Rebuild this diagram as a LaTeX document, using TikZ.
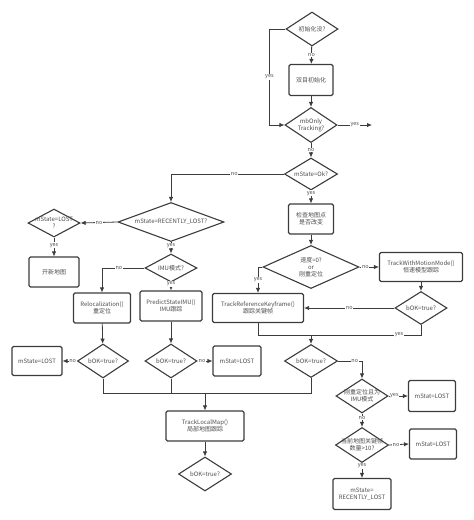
\documentclass[tikz,border=0pt]{standalone}
\usepackage{fontspec}
\newfontfamily\cjk{Noto Sans CJK SC}
\usetikzlibrary{shapes.geometric,arrows.meta,positioning}
\definecolor{edgegray}{HTML}{3C3C3C}
\definecolor{textgray}{HTML}{4D4D4D}

\begin{document}
\begin{tikzpicture}[x=1pt,y=-1pt,
  font=\cjk\fontsize{6}{7}\selectfont, text=textgray,
  proc/.style 2 args={draw=edgegray, line width=1.1pt, rounded corners=1.5pt, minimum width=#1, minimum height=#2, inner sep=1pt, align=center},
  dec/.code 2 args={\pgfmathsetmacro\decaspect{#1/#2}%
    \tikzset{diamond, draw=edgegray, line width=1.1pt, minimum width=#1, minimum height=#2, aspect=\decaspect, inner xsep=-4pt, inner ysep=-1pt, align=center}},
  arr/.style={draw=edgegray, line width=0.8pt, -{Latex[length=5pt,width=4.5pt]}},
  ln/.style={draw=edgegray, line width=0.8pt},
  lab/.style={fill=white, inner sep=0.6pt, font=\cjk\fontsize{5.5}{6}\selectfont}]
\useasboundingbox (0,0) rectangle (474,520);

% initialisation
\node[dec={52}{34}] (init) at (312,29) {初始化没?};
\node[proc={44}{31}] (stereo) at (311,80) {双目初始化};
\node[dec={52}{35}] (only) at (311,125) {mbOnly\\Tracking?};
\coordinate (exit) at (372,125);
\node[dec={53}{32}] (ok) at (311,174) {mState=Ok?};

% lost branch
\node[dec={106}{39}] (recent) at (171,222) {mState=RECENTLY\_LOST?};
\node[dec={52}{28}] (lostq) at (54,223) {mState=LOST\\?};
\node[proc={50}{30}] (newmap) at (54,272) {开新地图};
\node[dec={52}{28}] (imu) at (171,268) {IMU模式?};
\node[proc={57}{30}] (reloc) at (102,308) {Relocalization()\\重定位};
\node[proc={62}{30}] (predict) at (171,306) {PredictStateIMU()\\IMU跟踪};
\node[dec={51}{34}] (bokA) at (103,361) {bOK=true?};
\node[proc={50}{29}] (lostA) at (37,361) {mState=LOST};
\node[dec={52}{34}] (bokB) at (171,361) {bOK=true?};
\node[proc={48}{30}] (lostB) at (237,361) {mStat=LOST};

% ok branch
\node[proc={45}{30}] (check) at (311,219) {检查地图点\\是否改变};
\node[dec={96}{43}] (speed) at (311,267) {速度=0?\\or\\刚重定位};
\node[proc={83}{29}] (motion) at (421,267) {TrackWithMotionMode()\\恒速模型跟踪};
\node[proc={91}{29}] (refkf) at (258,308) {TrackReferenceKeyframe()\\跟踪关键帧};
\node[dec={52}{33}] (bokM) at (421,308) {bOK=true?};
\coordinate (jC) at (311,335);
\node[dec={53}{33}] (bokC) at (311,361) {bOK=true?};
\node[dec={52}{34}] (relocimu) at (362,396) {刚重定位且为\\IMU模式};
\node[proc={47}{31}] (lostC) at (432,396) {mStat=LOST};
\node[dec={53}{35}] (kfnum) at (362,445) {当前地图关键帧\\数量>10?};
\node[proc={47}{30}] (lostD) at (433,444) {mStat=LOST};
\node[proc={58}{31}] (rlost) at (362,494) {mState=\\RECENTLY\_LOST};

% local map
\coordinate (jL) at (205,393);
\node[proc={78}{30}] (localmap) at (205,426) {TrackLocalMap()\\局部地图跟踪};
\node[dec={53}{34}] (bokL) at (205,474) {bOK=true?};

% connectors
\draw[arr] (init) -- (stereo) node[lab,midway] {no};
\draw[arr] (init.west) -- ++(-16,0) |- (only.west) node[lab,pos=0.25] {yes};
\draw[arr] (stereo) -- (only);
\draw[arr] (only.east) -- (exit) node[lab,midway] {yes};
\draw[arr] (only) -- (ok) node[lab,midway] {no};
\draw[arr] (ok.west) -| (recent.north) node[lab,pos=0.22] {no};
\draw[arr] (recent.west) -- (lostq.east) node[lab,midway] {no};
\draw[arr] (lostq) -- (newmap) node[lab,pos=0.4] {yes};
\draw[arr] (recent) -- (imu) node[lab,pos=0.3] {yes};
\draw[arr] (imu.west) -| (reloc.north) node[lab,pos=0.3] {no};
\draw[arr] (imu) -- (predict) node[lab,pos=0.15] {yes};
\draw[arr] (reloc) -- (bokA);
\draw[arr] (predict) -- (bokB);
\draw[arr] (bokA.west) -- (lostA.east) node[lab,pos=0.3] {no};
\draw[arr] (bokB.east) -- (lostB.west) node[lab,pos=0.3] {no};

\draw[arr] (ok) -- (check) node[lab,pos=0.2] {yes};
\draw[arr] (check) -- (speed);
\draw[arr] (speed.east) -- (motion.west) node[lab,pos=0.3] {no};
\draw[arr] (speed.west) -| (refkf.north) node[lab,pos=0.75] {yes};
\draw[arr] (motion) -- (bokM);
\draw[arr] (bokM.west) -- (refkf.east) node[lab,midway] {no};
\draw[ln] (bokM.south) |- (jC) node[lab,pos=0.6] {yes};
\draw[ln] (refkf.south) |- (jC);
\draw[arr] (jC) -- (bokC.north);
\draw[arr] (bokC.east) -| (relocimu.north) node[lab,pos=0.35] {no};
\draw[arr] (relocimu.east) -- (lostC.west) node[lab,pos=0.3] {yes};
\draw[arr] (relocimu) -- (kfnum) node[lab,pos=0.35] {no};
\draw[arr] (kfnum.east) -- (lostD.west) node[lab,pos=0.35] {no};
\draw[arr] (kfnum) -- (rlost) node[lab,pos=0.2] {yes};

\draw[ln] (bokA.south) |- (jL);
\draw[ln] (bokC.south) |- (jL);
\draw[ln] (bokB.south) -- (bokB.south |- jL);
\draw[arr] (jL) -- (localmap);
\draw[arr] (localmap) -- (bokL);
\end{tikzpicture}
\end{document}
